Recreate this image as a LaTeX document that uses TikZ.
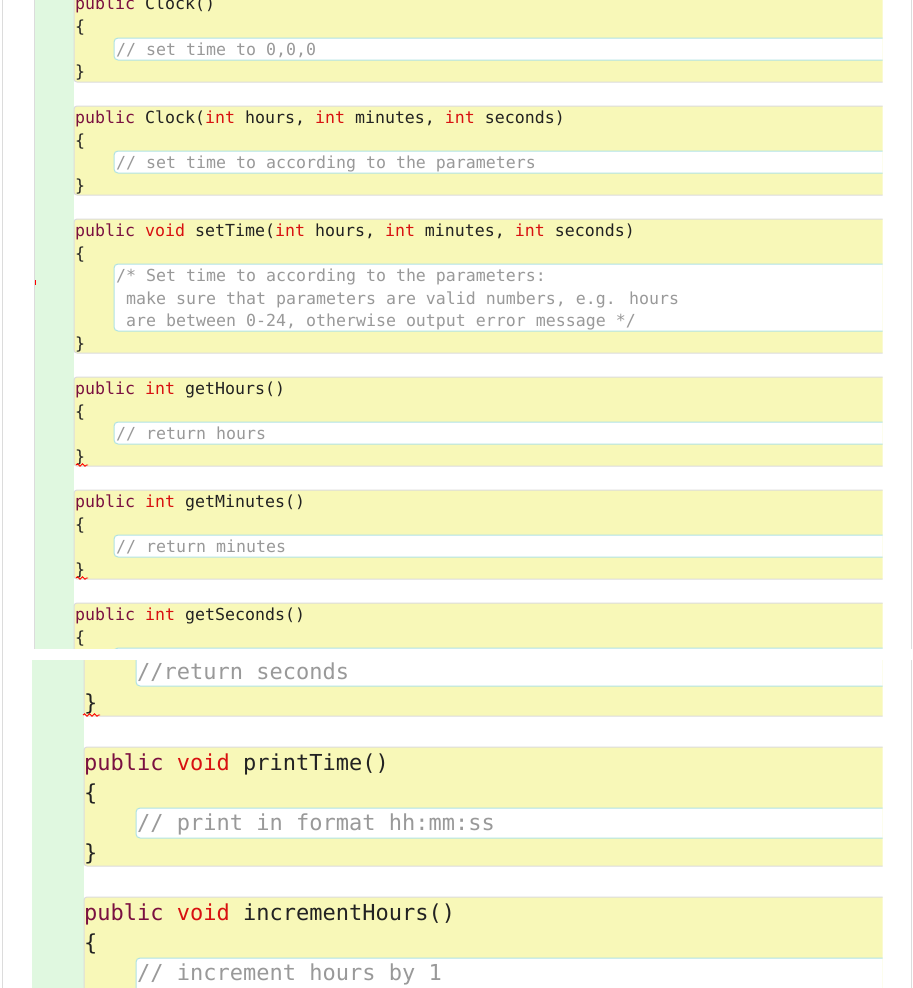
\documentclass[tikz,border=0pt]{standalone}
\usepackage{fontspec}
\newfontfamily\cf{DejaVu Sans Mono}
\usetikzlibrary{decorations.pathmorphing}
\definecolor{yel}{HTML}{F8F8B8}
\definecolor{grn}{HTML}{E0F8E0}
\definecolor{kw}{HTML}{7A1040}
\definecolor{ty}{HTML}{D81010}
\definecolor{cm}{HTML}{999999}
\definecolor{txt}{HTML}{222222}
\definecolor{bd}{HTML}{DCDCDC}
\tikzset{
 yband/.style={fill=yel,draw=bd,line width=1pt,rounded corners=3pt},
 cbox/.style={fill=white,draw=bd!80!cyan,line width=1pt,rounded corners=4pt},
 codeA/.style={anchor=west,inner sep=0pt,text=txt,font=\cf\fontsize{16.6}{18}\selectfont,text height=11pt,text depth=3pt},
 codeB/.style={anchor=west,inner sep=0pt,text=txt,font=\cf\fontsize{22}{24}\selectfont,text height=15pt,text depth=4pt},
 cmA/.style={codeA,text=cm},
 cmB/.style={codeB,text=cm},
 squig/.style={draw=red,line width=0.9pt,decorate,decoration={snake,amplitude=1.2pt,segment length=5pt}}
}
\newcommand{\K}[1]{\textcolor{kw}{#1}}
\newcommand{\T}[1]{\textcolor{ty}{#1}}
\begin{document}
\begin{tikzpicture}[x=1pt,y=-1pt]
\useasboundingbox (0,0) rectangle (913,988);
\fill[white] (0,0) rectangle (913,988);
\draw[bd,line width=1pt] (2.5,0) -- (2.5,988);
\draw[bd,line width=1pt] (911.5,0) -- (911.5,988);
\begin{scope}
\clip (0,-20) rectangle (882.5,1000);
% upper gutter
\fill[grn] (35,0) rectangle (74,650);
\draw[bd,line width=1pt] (34,0) -- (34,650);
% upper blocks
\draw[yband] (74,-10) rectangle (892,82);
\draw[cbox] (114,38) -- (892,38) -- (892,60) -- (114,60) -- cycle;
\draw[yband] (74,106) rectangle (892,195);
\draw[cbox] (114,151) -- (892,151) -- (892,173) -- (114,173) -- cycle;
\draw[yband] (74,219) rectangle (892,353);
\draw[cbox] (114,264) -- (892,264) -- (892,331) -- (114,331) -- cycle;
\draw[yband] (74,377) rectangle (892,466);
\draw[cbox] (114,422) -- (892,422) -- (892,444) -- (114,444) -- cycle;
\draw[yband] (74,490) rectangle (892,579);
\draw[cbox] (114,535) -- (892,535) -- (892,557) -- (114,557) -- cycle;
\draw[yband] (74,603) rectangle (892,660);
\draw[cbox] (114,648) -- (892,648) -- (892,670) -- (114,670) -- cycle;
\end{scope}
% texts upper
\node[codeA] (h1) at (75,5) {\K{public} Clock()};
\node[codeA] (o1) at (75,28) {\{};
\node[cmA] (c1) at (116,51) {// set time to 0,0,0};
\node[codeA] (e1) at (75,73) {\}};
\node[codeA] (h2) at (75,119) {\K{public} Clock(\T{int} hours, \T{int} minutes, \T{int} seconds)};
\node[codeA] (o2) at (75,142) {\{};
\node[cmA] (c2) at (116,164) {// set time to according to the parameters};
\node[codeA] (e2) at (75,187) {\}};
\node[codeA] (h3) at (75,232) {\K{public} \T{void} setTime(\T{int} hours, \T{int} minutes, \T{int} seconds)};
\node[codeA] (o3) at (75,255) {\{};
\node[cmA] (c3a) at (116,277) {/* Set time to according to the parameters:};
\node[cmA] (c3b) at (116,300) {\ make sure that parameters are valid numbers, e.g. hours};
\node[cmA] (c3c) at (116,322) {\ are between 0-24, otherwise output error message */};
\node[codeA] (e3) at (75,345) {\}};
\node[codeA] (h4) at (75,390) {\K{public} \T{int} getHours()};
\node[codeA] (o4) at (75,413) {\{};
\node[cmA] (c4) at (116,435) {// return hours};
\node[codeA] (e4) at (75,458) {\}};
\node[codeA] (h5) at (75,503) {\K{public} \T{int} getMinutes()};
\node[codeA] (o5) at (75,526) {\{};
\node[cmA] (c5) at (116,548) {// return minutes};
\node[codeA] (e5) at (75,571) {\}};
\node[codeA] (h6) at (75,616) {\K{public} \T{int} getSeconds()};
\node[codeA] (o6) at (75,639) {\{};
\draw[squig] (76,465) -- (88,465);
\draw[squig] (76,578) -- (88,578);
\draw[red,line width=1pt] (35,280) -- (35,285);
% lower part
\fill[white] (0,649) rectangle (913,660);
\fill[white] (3,660) rectangle (911,988);
\draw[bd,line width=1pt] (2.5,649) -- (2.5,988);
\fill[grn] (32,660) rectangle (84,988);
\begin{scope}
\clip (0,660) rectangle (882.5,1000);
\draw[yband] (84,640) rectangle (892,716);
\draw[cbox] (136,650) -- (892,650) -- (892,686) -- (136,686) -- cycle;
\draw[yband] (84,747) rectangle (892,866);
\draw[cbox] (136,808) -- (892,808) -- (892,838) -- (136,838) -- cycle;
\draw[yband] (84,897) rectangle (892,1000);
\draw[cbox] (136,958) -- (892,958) -- (892,1000) -- (136,1000) -- cycle;
\end{scope}
\node[cmB] (c6) at (137,674) {//return seconds};
\node[codeB] (e6) at (84,705) {\}};
\draw[squig] (83,715) -- (100,715);
\node[codeB] (h7) at (84,765) {\K{public} \T{void} printTime()};
\node[codeB] (o7) at (84,795) {\{};
\node[cmB] (c7) at (137,825) {// print in format hh:mm:ss};
\node[codeB] (e7) at (84,855) {\}};
\node[codeB] (h8) at (84,915) {\K{public} \T{void} incrementHours()};
\node[codeB] (o8) at (84,945) {\{};
\node[cmB] (c8) at (137,975) {// increment hours by 1};
\end{tikzpicture}
\end{document}
